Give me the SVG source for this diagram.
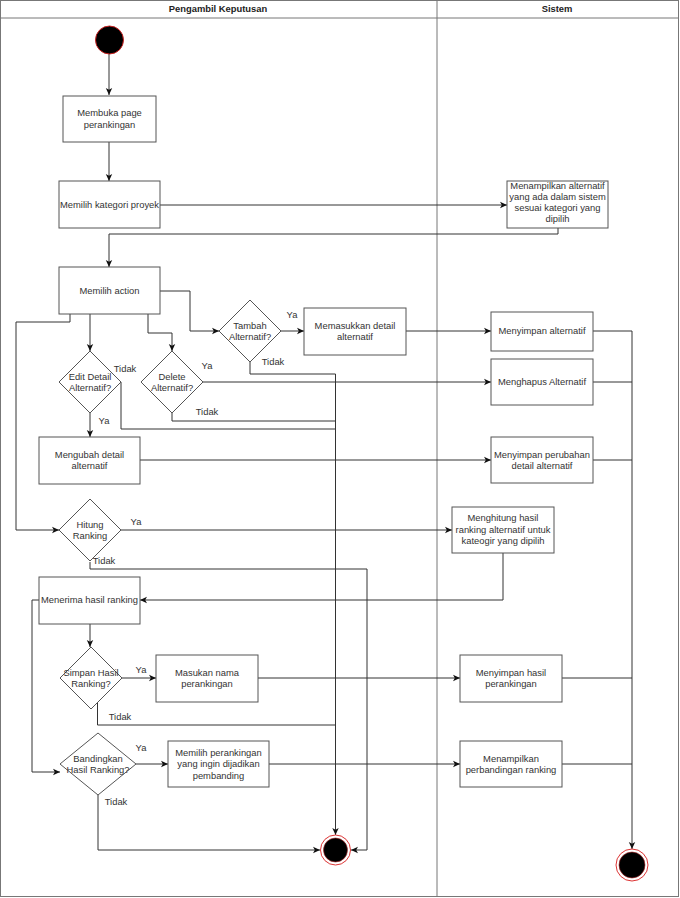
<svg xmlns="http://www.w3.org/2000/svg" width="680" height="898" viewBox="0 0 680 898">
<defs>
<marker id="arr" markerUnits="userSpaceOnUse" markerWidth="8" markerHeight="8" refX="7" refY="4" orient="auto">
<path d="M0,0.8 L7,4 L0,7.2 L1.8,4 z" fill="#111"/>
</marker>
<style>
.lane{fill:none;stroke:#777;stroke-width:1}
.box{fill:#fff;stroke:#555;stroke-width:1}
.dia{fill:#fff;stroke:#555;stroke-width:1}
.t{font-family:"Liberation Sans",Arial,sans-serif;font-size:9.4px;fill:#333;text-anchor:middle}
.h{font-family:"Liberation Sans",Arial,sans-serif;font-size:9.4px;fill:#222;text-anchor:middle;font-weight:bold}
.c{fill:none;stroke:#333;stroke-width:1}
.ca{fill:none;stroke:#333;stroke-width:1;marker-end:url(#arr)}
</style>
</defs>
<rect width="680" height="898" fill="#fff"/>
<g id="lanes">
<rect class="lane" x="0.5" y="0.5" width="678" height="896"/>
<line class="lane" x1="0.5" y1="18" x2="678.5" y2="18"/>
<line class="lane" x1="437" y1="0.5" x2="437" y2="896.5"/>
<text class="h" x="218" y="12.3">Pengambil Keputusan</text>
<text class="h" x="557" y="12.3">Sistem</text>
</g>
<g id="connectors">
<path class="ca" d="M109,54 V95"/>
<path class="ca" d="M109,142 V181"/>
<path class="ca" d="M160,205 H507"/>
<path class="ca" d="M558,228 V234 H109 V267"/>
<path class="ca" d="M160,291 H190 V331 H219"/>
<path class="ca" d="M281,331 H304"/>
<path class="ca" d="M406,331 H491"/>
<path class="ca" d="M593,331 H632 V849"/>
<path class="c" d="M593,382 H632"/>
<path class="c" d="M593,460 H632"/>
<path class="c" d="M562,678 H632"/>
<path class="c" d="M562,764 H632"/>
<path class="ca" d="M250,362 V374 H335.5 V835"/>
<path class="c" d="M121,382 V429 H335.5"/>
<path class="c" d="M172,413 V421 H335.5"/>
<path class="c" d="M97.5,703 V725 H335.5"/>
<path class="ca" d="M90,314 V351"/>
<path class="ca" d="M148,314 V333 H172 V351"/>
<path class="ca" d="M70,314 V322 H16 V530 H59"/>
<path class="ca" d="M203,382 H491"/>
<path class="ca" d="M90,413 V437"/>
<path class="ca" d="M140,460 H491"/>
<path class="ca" d="M121,530 H452"/>
<path class="ca" d="M503,553 V600 H140"/>
<path class="ca" d="M90,562 V569 H367 V850 H351"/>
<path class="ca" d="M90,624 V647"/>
<path class="ca" d="M39,600 H32 V772 H60"/>
<path class="ca" d="M122,678 H156"/>
<path class="ca" d="M258,678 H460"/>
<path class="ca" d="M136,764 H168"/>
<path class="ca" d="M269,764 H460"/>
<path class="ca" d="M98,795 V850 H320"/>
<text class="t" x="292" y="318.3">Ya</text>
<text class="t" x="273" y="365.3">Tidak</text>
<text class="t" x="125" y="372.3">Tidak</text>
<text class="t" x="207" y="369.3">Ya</text>
<text class="t" x="104" y="424.3">Ya</text>
<text class="t" x="207" y="415.3">Tidak</text>
<text class="t" x="136" y="525.3">Ya</text>
<text class="t" x="104" y="564.3">Tidak</text>
<text class="t" x="141" y="673.3">Ya</text>
<text class="t" x="120" y="720.3">Tidak</text>
<text class="t" x="141" y="751.3">Ya</text>
<text class="t" x="116" y="805.3">Tidak</text>
</g>
<g id="start">
<circle cx="109.5" cy="40" r="14" fill="#000" stroke="#cc2222" stroke-width="1"/>
</g>
<g id="n_membuka">
<rect class="box" x="63" y="96" width="93" height="46"/>
<text class="t" x="109.5" y="116.4">Membuka page</text>
<text class="t" x="109.5" y="127.6">perankingan</text>
</g>
<g id="n_kategori">
<rect class="box" x="59" y="181" width="101" height="47"/>
<text class="t" x="109.5" y="207.8">Memilih kategori proyek</text>
</g>
<g id="n_menampilkan">
<rect class="box" x="507" y="181" width="101" height="47"/>
<text class="t" x="557.5" y="188.5">Menampilkan alternatif</text>
<text class="t" x="557.5" y="199.7">yang ada dalam sistem</text>
<text class="t" x="557.5" y="210.9">sesuai kategori yang</text>
<text class="t" x="557.5" y="222.1">dipilih</text>
</g>
<g id="n_action">
<rect class="box" x="59" y="267" width="101" height="47"/>
<text class="t" x="109.5" y="294">Memilih action</text>
</g>
<g id="d_tambah">
<polygon class="dia" points="250,300 281,331 250,362 219,331"/>
<text class="t" x="250" y="328.7">Tambah</text>
<text class="t" x="250" y="339.9">Alternatif?</text>
</g>
<g id="n_memasukkan">
<rect class="box" x="304" y="308" width="102" height="47"/>
<text class="t" x="355" y="328.7">Memasukkan detail</text>
<text class="t" x="355" y="339.9">alternatif</text>
</g>
<g id="n_simpan_alt">
<rect class="box" x="491" y="312" width="102" height="39"/>
<text class="t" x="542" y="334.3">Menyimpan alternatif</text>
</g>
<g id="d_edit">
<polygon class="dia" points="90,351 121,382 90,413 59,382"/>
<text class="t" x="90" y="379.7">Edit Detail</text>
<text class="t" x="90" y="390.9">Alternatif?</text>
</g>
<g id="d_delete">
<polygon class="dia" points="172,351 203,382 172,413 141,382"/>
<text class="t" x="172" y="379.7">Delete</text>
<text class="t" x="172" y="390.9">Alternatif?</text>
</g>
<g id="n_hapus">
<rect class="box" x="491" y="359" width="102" height="46"/>
<text class="t" x="542" y="385.3">Menghapus Alternatif</text>
</g>
<g id="n_ubah">
<rect class="box" x="39" y="437" width="101" height="47"/>
<text class="t" x="89.5" y="457.7">Mengubah detail</text>
<text class="t" x="89.5" y="468.9">alternatif</text>
</g>
<g id="n_simpan_ubah">
<rect class="box" x="491" y="437" width="102" height="46"/>
<text class="t" x="542" y="457.7">Menyimpan perubahan</text>
<text class="t" x="542" y="468.9">detail alternatif</text>
</g>
<g id="d_hitung">
<polygon class="dia" points="90,499 121,530 90,561 59,530"/>
<text class="t" x="90" y="527.7">Hitung</text>
<text class="t" x="90" y="538.9">Ranking</text>
</g>
<g id="n_menghitung">
<rect class="box" x="452" y="507" width="102" height="46"/>
<text class="t" x="503" y="521.4">Menghitung hasil</text>
<text class="t" x="503" y="532.6">ranking alternatif untuk</text>
<text class="t" x="503" y="543.8">kateogir yang dipilih</text>
</g>
<g id="n_menerima">
<rect class="box" x="39" y="577" width="101" height="47"/>
<text class="t" x="89.5" y="603.3">Menerima hasil ranking</text>
</g>
<g id="d_simpan">
<polygon class="dia" points="91,647 122,678 91,709 60,678"/>
<text class="t" x="91" y="675.7">Simpan Hasil</text>
<text class="t" x="91" y="686.9">Ranking?</text>
</g>
<g id="n_masukan">
<rect class="box" x="156" y="655" width="102" height="47"/>
<text class="t" x="207" y="675.7">Masukan nama</text>
<text class="t" x="207" y="686.9">perankingan</text>
</g>
<g id="n_simpan_hasil">
<rect class="box" x="460" y="655" width="102" height="47"/>
<text class="t" x="511" y="675.7">Menyimpan hasil</text>
<text class="t" x="511" y="686.9">perankingan</text>
</g>
<g id="d_bandingkan">
<polygon class="dia" points="98,733 136,764 98,795 60,764"/>
<text class="t" x="98" y="761.7">Bandingkan</text>
<text class="t" x="98" y="772.9">Hasil Ranking?</text>
</g>
<g id="n_pilih_banding">
<rect class="box" x="168" y="741" width="101" height="46"/>
<text class="t" x="218.5" y="756.1">Memilih perankingan</text>
<text class="t" x="218.5" y="767.3">yang ingin dijadikan</text>
<text class="t" x="218.5" y="778.5">pembanding</text>
</g>
<g id="n_tampil_banding">
<rect class="box" x="460" y="741" width="102" height="46"/>
<text class="t" x="511" y="761.7">Menampilkan</text>
<text class="t" x="511" y="772.9">perbandingan ranking</text>
</g>
<g id="end1">
<circle cx="335.5" cy="850" r="15" fill="#fff" stroke="#dd3333" stroke-width="1"/>
<circle cx="335.5" cy="850" r="12" fill="#000" stroke="#aa2222" stroke-width="0.6"/>
</g>
<g id="end2">
<circle cx="632" cy="865" r="16" fill="#fff" stroke="#dd3333" stroke-width="1"/>
<circle cx="632" cy="865" r="13" fill="#000" stroke="#aa2222" stroke-width="0.6"/>
</g>
</svg>
